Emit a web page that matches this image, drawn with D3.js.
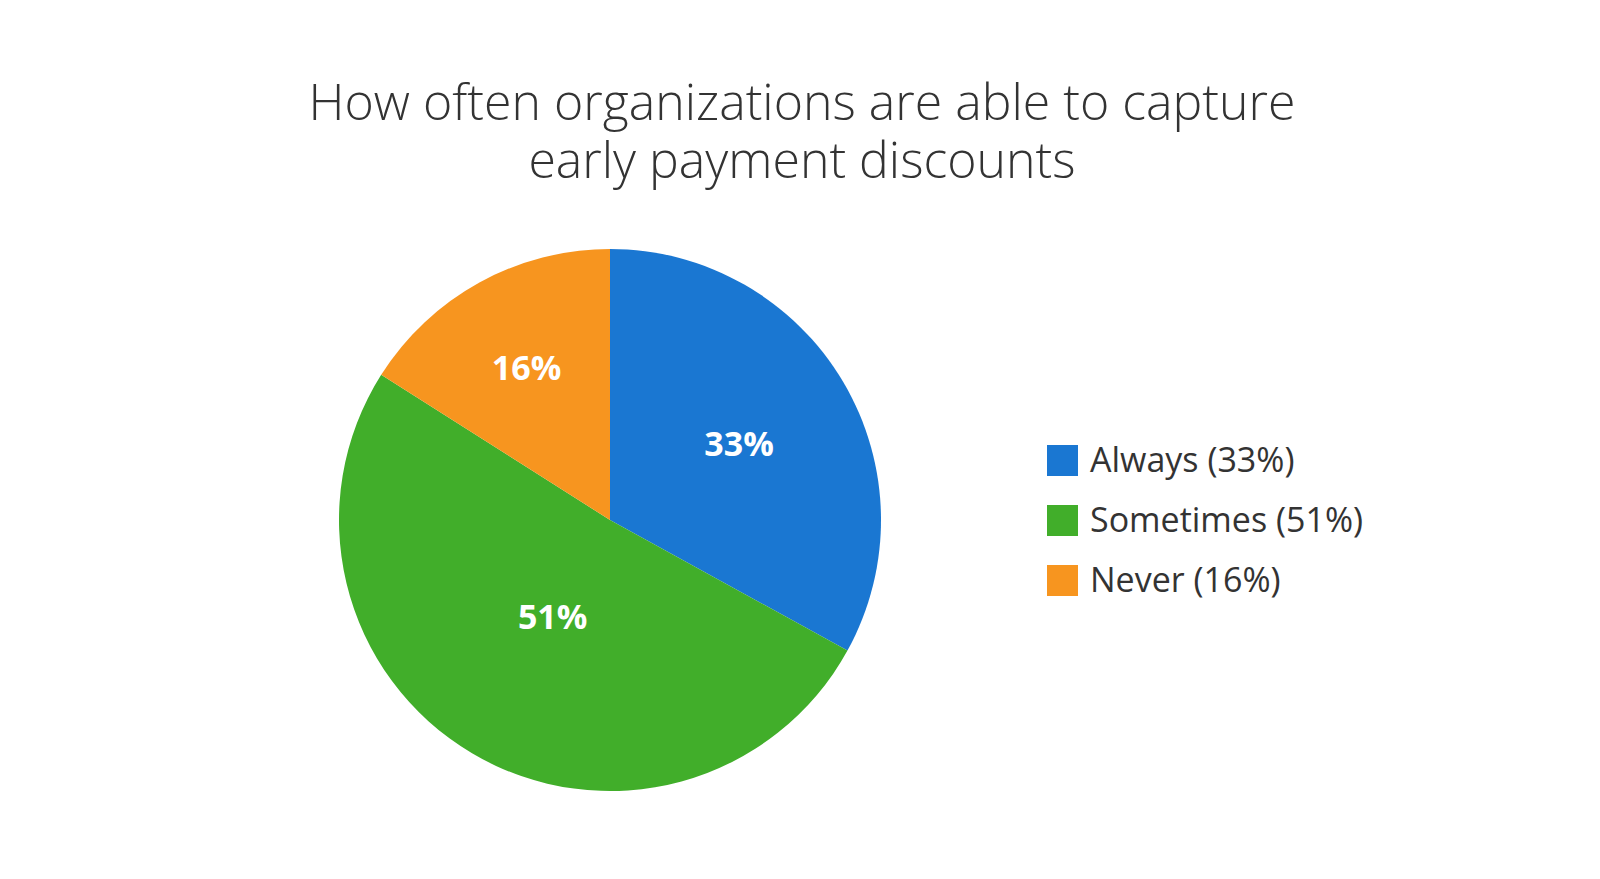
<!DOCTYPE html>
<html lang="en">
	<head>
		<meta charset="utf-8">
		<title>Early payment discounts pie</title>
		<script type="text/javascript" src="https://cdnjs.cloudflare.com/ajax/libs/d3/7.8.5/d3.min.js"></script>
		<style type="text/css">
			body { margin: 0; background: #fff; }
			text { font-family: "Open Sans", sans-serif; }
		</style>
	</head>
	<body>
		<script type="text/javascript">

			//Data
			var categories = ["Always", "Sometimes", "Never"];
			var values = [33, 51, 16];
			var colors = ["#1a77d2", "#41ae2a", "#f7951f"];
			var titleLines = ["How often organizations are able to capture", "early payment discounts"];

			//Width and height
			var w = 1600;
			var h = 879;
			var cx = 610, cy = 520, radius = 271;

			var svg = d3.select("body")
						.append("svg")
						.attr("width", w)
						.attr("height", h);

			//Title, one text element with a line per tspan
			svg.append("text")
			   .attr("text-anchor", "middle")
			   .attr("font-size", 50)
			   .attr("font-weight", 300)
			   .attr("fill", "#333")
			   .selectAll("tspan")
			   .data(titleLines)
			   .enter()
			   .append("tspan")
			   .attr("x", 802)
			   .attr("y", (d, i) => 120 + i * 58)
			   .text(d => d);

			var dataset = categories.map((c, i) => ({ name: c, value: values[i], color: colors[i] }));

			var pie = d3.pie().sort(null).value(d => d.value);
			var arc = d3.arc().innerRadius(0).outerRadius(radius);

			var g = svg.append("g")
					   .attr("transform", `translate(${cx},${cy})`);

			var slices = pie(dataset);

			g.selectAll("path")
			 .data(slices)
			 .enter()
			 .append("path")
			 .attr("d", arc)
			 .attr("fill", d => d.data.color);

			//Labels at the geometric centroid of each wedge
			var labelPos = d => {
				var theta = d.endAngle - d.startAngle;
				var mid = (d.startAngle + d.endAngle) / 2;
				var r = 4 * radius * Math.sin(theta / 2) / (3 * theta);
				return [Math.sin(mid) * r, -Math.cos(mid) * r];
			};

			g.selectAll("text")
			 .data(slices)
			 .enter()
			 .append("text")
			 .attr("x", d => labelPos(d)[0])
			 .attr("y", d => labelPos(d)[1])
			 .attr("text-anchor", "middle")
			 .attr("dy", "0.35em")
			 .attr("font-size", 34)
			 .attr("font-weight", 700)
			 .attr("fill", "#fff")
			 .text(d => d.data.value + "%");

			//Legend
			var legend = svg.append("g")
							.attr("transform", "translate(1047,445)");

			var item = legend.selectAll("g")
							 .data(dataset)
							 .enter()
							 .append("g")
							 .attr("transform", (d, i) => `translate(0,${i * 60})`);

			item.append("rect")
				.attr("width", 31)
				.attr("height", 31)
				.attr("fill", d => d.color);

			item.append("text")
				.attr("x", 43)
				.attr("y", 27)
				.attr("font-size", 34)
				.attr("fill", "#333")
				.text(d => `${d.name} (${d.value}%)`);

		</script>
	</body>
</html>
